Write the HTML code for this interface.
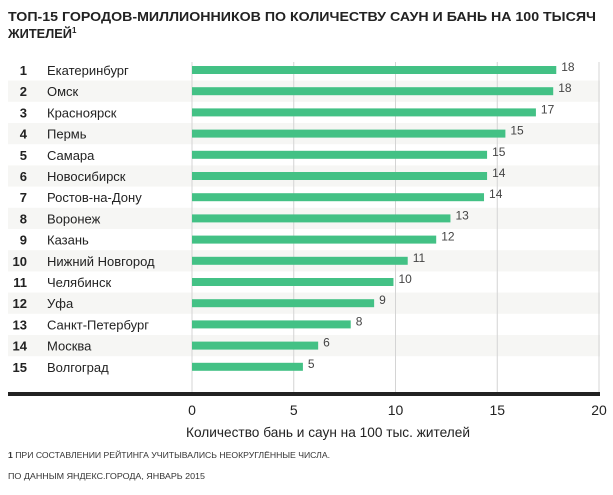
<!DOCTYPE html>
<html><head><meta charset="utf-8"><style>
body{margin:0;background:#fff;font-family:"Liberation Sans",sans-serif;}
svg text{font-family:"Liberation Sans",sans-serif;}
</style></head><body>
<svg width="613" height="490">
<text x="8" y="21" font-size="13" font-weight="bold" fill="#222" textLength="588" lengthAdjust="spacingAndGlyphs">ТОП-15 ГОРОДОВ-МИЛЛИОННИКОВ ПО КОЛИЧЕСТВУ САУН И БАНЬ НА 100 ТЫСЯЧ</text>
<text x="8" y="38" font-size="13" font-weight="bold" fill="#222"><tspan textLength="64" lengthAdjust="spacingAndGlyphs">ЖИТЕЛЕЙ</tspan><tspan font-size="8" dy="-5">1</tspan></text>
<g id="bands"></g><g id="grid"></g><g id="bars"></g>
<rect x="8" y="392" width="592" height="4" fill="#222"/>
<g id="ticks"></g>
<text x="186" y="437" font-size="14" fill="#222" textLength="284" lengthAdjust="spacingAndGlyphs">Количество бань и саун на 100 тыс. жителей</text>
<text x="8" y="458" font-size="8" fill="#333" textLength="322" lengthAdjust="spacingAndGlyphs"><tspan font-weight="bold">1</tspan> ПРИ СОСТАВЛЕНИИ РЕЙТИНГА УЧИТЫВАЛИСЬ НЕОКРУГЛЁННЫЕ ЧИСЛА.</text>
<text x="8" y="479" font-size="8" fill="#333" textLength="197" lengthAdjust="spacingAndGlyphs">ПО ДАННЫМ ЯНДЕКС.ГОРОДА, ЯНВАРЬ 2015</text>
</svg>
<script>
const cities=["Екатеринбург","Омск","Красноярск","Пермь","Самара","Новосибирск","Ростов-на-Дону","Воронеж","Казань","Нижний Новгород","Челябинск","Уфа","Санкт-Петербург","Москва","Волгоград"];
const values=[17.9,17.75,16.9,15.4,14.5,14.5,14.35,12.7,12.0,10.6,9.9,8.95,7.8,6.2,5.45];
const valueLabels=["18","18","17","15","15","14","14","13","12","11","10","9","8","6","5"];
const ticks=[0,5,10,15,20];
const NS="http://www.w3.org/2000/svg";
const x=v=>192+v*(407/20);
const y=i=>70+i*21.2;
function mk(tag,attrs,parent,txt){const e=document.createElementNS(NS,tag);for(const k in attrs)e.setAttribute(k,attrs[k]);if(txt!==undefined)e.textContent=txt;document.getElementById(parent).appendChild(e);return e;}
cities.forEach((c,i)=>{
 if(i%2===1){const b=mk('rect',{x:8,y:y(i)-10.6,width:592,height:21.2,fill:'#f6f6f4'},'bands');
 
 }
});
ticks.forEach(t=>{
 const l=mk('line',{x1:x(t),x2:x(t),y1:62,y2:392,stroke:'#d4d4d4','stroke-width':1},'grid');
 
 
 const tl=mk('text',{x:x(t),y:415,'font-size':14,'text-anchor':'middle',fill:'#222'},'ticks',String(t));
 
 
});
cities.forEach((c,i)=>{
 const r=mk('text',{x:27,y:y(i)+5,'font-size':13,'font-weight':'bold','text-anchor':'end',fill:'#222'},'bars',String(i+1));
 
 
 const n=mk('text',{x:47,y:y(i)+5,'font-size':13,fill:'#222'},'bars',c);
 
 
 const b=mk('rect',{x:x(0),y:y(i)-4,width:x(values[i])-x(0),height:8,fill:'#43c185'},'bars');
 
 
 const v=mk('text',{x:x(values[i])+5,y:y(i)+1,'font-size':12,fill:'#444'},'bars',valueLabels[i]);
 
 
});
</script>
</body></html>
